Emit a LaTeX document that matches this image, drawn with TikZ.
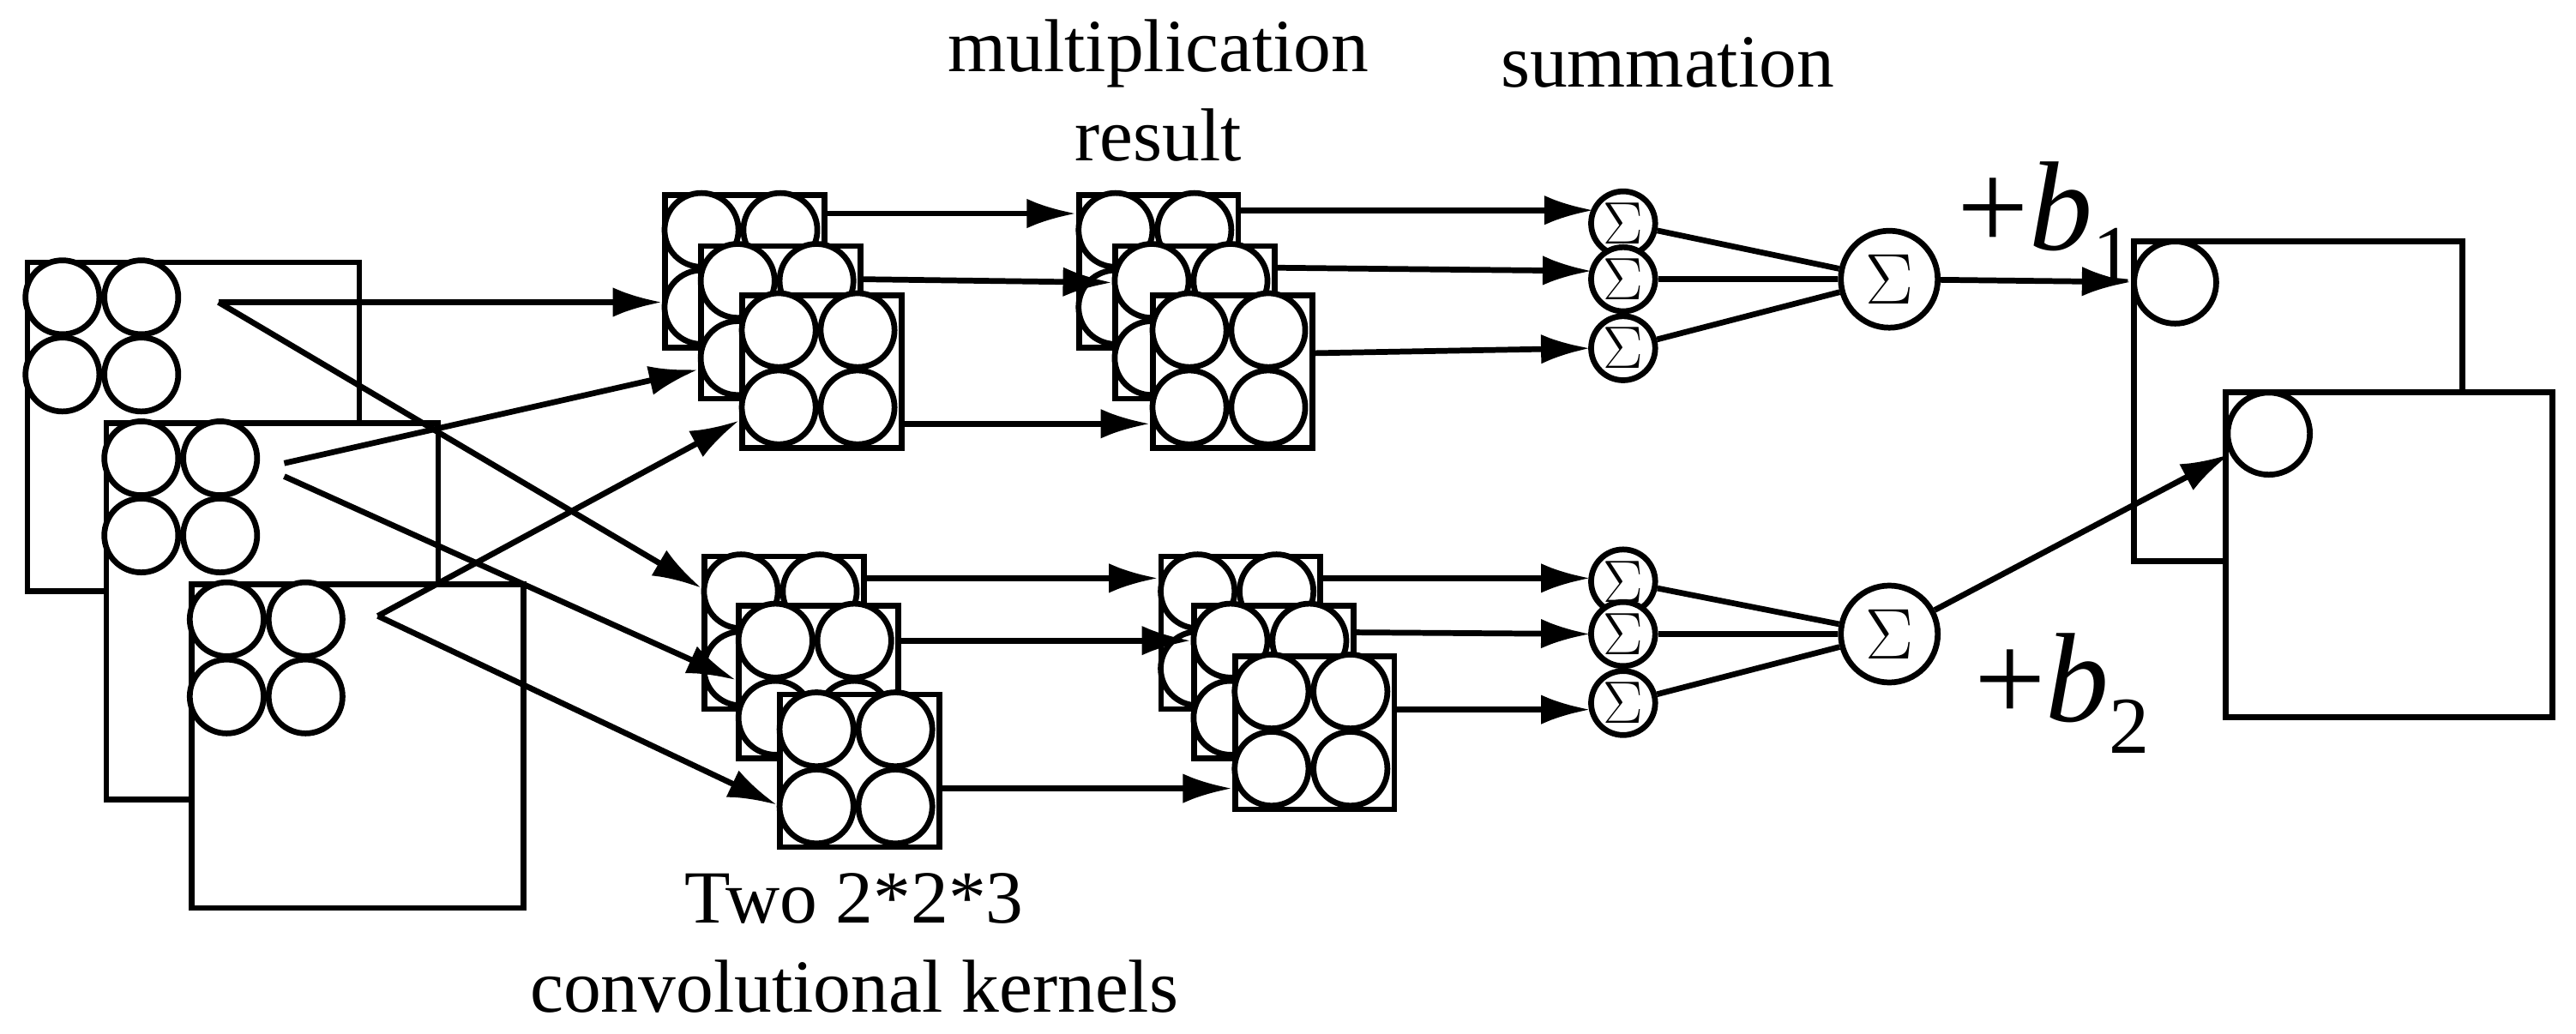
\documentclass[tikz,border=0pt]{standalone}
\usepackage{fontspec}
\setmainfont{Liberation Serif}
\usetikzlibrary{arrows.meta,calc}
\begin{document}
\begin{tikzpicture}[x=0.02cm,y=-0.02cm,line width=2pt,
  arr/.style={-{Latex[length=0.6cm,width=0.36cm]}},
  cir/.style={circle,draw,fill=white,inner sep=0pt,minimum size=0.9cm},
  box/.style={draw,fill=white,inner sep=0pt,anchor=north west},
  sm/.style={circle,draw,fill=white,inner sep=0pt,minimum size=0.78cm,font=\rmfamily\fontsize{20}{20}\selectfont},
  big/.style={circle,draw,fill=white,inner sep=0pt,minimum size=1.18cm,font=\rmfamily\fontsize{24}{24}\selectfont},
  lab/.style={font=\rmfamily\fontsize{26}{31}\selectfont,align=center},
  plab/.style={font=\rmfamily\fontsize{44}{44}\selectfont}]
\useasboundingbox (0,0) rectangle (1568,629.5);
\newcommand{\cells}[3]{%
  \node[cir] (#1a) at (#2+23,#3+23) {};
  \node[cir] (#1b) at (#2+71,#3+23) {};
  \node[cir] (#1c) at (#2+23,#3+70) {};
  \node[cir] (#1d) at (#2+71,#3+70) {};}
\newcommand{\kbox}[3]{%
  \node[box,minimum width=1.94cm,minimum height=1.86cm] (#1) at (#2,#3) {};
  \cells{#1}{#2+1}{#3}}
% input maps
\node[box,minimum width=4.04cm,minimum height=4.0cm] (m1) at (15,158) {};
\cells{m1}{15}{158}
\node[box,minimum width=4.04cm,minimum height=4.58cm] (m2) at (63,256) {};
\cells{m2}{63}{256}
\node[box,minimum width=4.04cm,minimum height=3.94cm] (m3) at (115,354) {};
\cells{m3}{115}{354}
% kernels
\kbox{k1}{403}{117}\kbox{k2}{425}{148}\kbox{k3}{450}{178}
\kbox{bk1}{427}{337}\kbox{bk2}{448}{367}\kbox{bk3}{473}{421}
% multiplication results
\kbox{r1}{655}{117}\kbox{r2}{677}{148}\kbox{r3}{700}{178}
\kbox{br1}{705}{337}\kbox{br2}{725}{367}\kbox{br3}{750}{398}
% summations
\node[sm] (s1) at (988,136) {$\Sigma$};
\node[sm] (s2) at (988,170) {$\Sigma$};
\node[sm] (s3) at (988,212) {$\Sigma$};
\node[sm] (t1) at (988,354) {$\Sigma$};
\node[sm] (t2) at (988,386) {$\Sigma$};
\node[sm] (t3) at (988,428) {$\Sigma$};
\node[big] (B1) at (1150,170) {$\Sigma$};
\node[big] (B2) at (1150,386) {$\Sigma$};
% outputs
\node[box,minimum width=4.0cm,minimum height=3.9cm] (o1) at (1297,145) {};
\node[cir,minimum size=1.0cm] (c1) at (1324,172) {};
\node[box,minimum width=3.98cm,minimum height=3.96cm] (o2) at (1353,237) {};
\node[cir,minimum size=1.0cm] (c2) at (1381,264) {};
% start points
\coordinate (p1) at ($(m1.north west)+(118,26)$);
\coordinate (p2) at ($(m2.north west)+(110,26)$);
\coordinate (p2b) at ($(m2.north west)+(110,34)$);
\coordinate (p3) at ($(m3.north west)+(115,21)$);
% input -> kernels
\draw[arr] (p1) -- ($(k1.north west)+(0,67)$);
\draw[arr] (p1) -- ($(bk1.north west)+(0,21)$);
\draw[arr] (p2) -- ($(k2.north west)+(0,77)$);
\draw[arr] (p2b) -- ($(bk2.north west)+(0,47)$);
\draw[arr] (p3) -- ($(k3.north west)+(0,78)$);
\draw[arr] (p3) -- ($(bk3.north west)+(0,69)$);
% kernels -> results
\draw[arr] ($(k1.north east)+(0,13)$) -- ($(r1.north west)+(0,13)$);
\draw[arr] ($(k2.north east)+(0,22)$) -- ($(r2.north west)+(0,24)$);
\draw[arr] ($(k3.north east)+(0,80)$) -- ($(r3.north west)+(0,80)$);
\draw[arr] ($(bk1.north east)+(0,15)$) -- ($(br1.north west)+(0,15)$);
\draw[arr] ($(bk2.north east)+(0,23)$) -- ($(br2.north west)+(0,23)$);
\draw[arr] ($(bk3.north east)+(0,59)$) -- ($(br3.north west)+(0,82)$);
% results -> sums
\draw[arr] ($(r1.north east)+(0,11)$) -- ($(s1)+(-18,-8)$);
\draw[arr] ($(r2.north east)+(0,15)$) -- ($(s2)+(-19,-5)$);
\draw[arr] ($(r3.north east)+(0,37)$) -- ($(s3)+(-20,0)$);
\draw[arr] ($(br1.north east)+(0,15)$) -- ($(t1)+(-20,-2)$);
\draw[arr] ($(br2.north east)+(0,18)$) -- ($(t2)+(-20,0)$);
\draw[arr] ($(br3.north east)+(0,34)$) -- ($(t3)+(-20,4)$);
% sums -> big sums
\foreach \s in {s1,s2,s3} \draw (\s) -- (B1);
\foreach \s in {t1,t2,t3} \draw (\s) -- (B2);
\draw[arr] (B1) -- (c1);
\draw[arr] (B2) -- (c2);
% labels
\node[lab] (L1) at (705,55) {multiplication\\result};
\node[lab] (L2) at (1015,38) {summation};
\node[lab] (L3) at (520,574) {Two 2*2*3\\convolutional kernels};
\node[plab] (L4) at (1245,135) {+\textit{b}\raisebox{-0.25em}{\fontsize{28}{28}\selectfont 1}};
\node[plab] (L5) at (1255,422) {+\textit{b}\raisebox{-0.25em}{\fontsize{28}{28}\selectfont 2}};
\end{tikzpicture}
\end{document}
